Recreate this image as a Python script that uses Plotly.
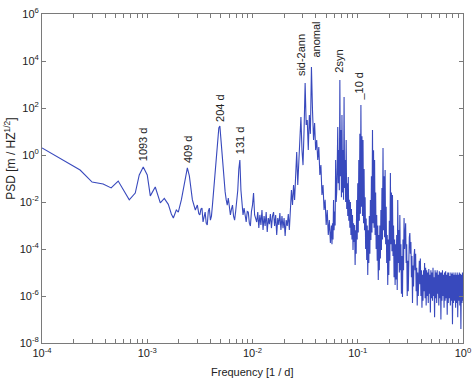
import numpy as np
import plotly.graph_objects as go

# ---- data: log10(frequency [1/d]) and log10(PSD) ----
log_freq_low = [-4.0, -3.829, -3.638, -3.524, -3.419, -3.343, -3.276, -3.171, -3.114, -3.076,
                -3.038, -3.0, -2.971, -2.924, -2.876, -2.838, -2.800, -2.771, -2.752, -2.724,
                -2.705, -2.676, -2.648, -2.619, -2.600, -2.571, -2.543, -2.524, -2.51]
log_psd_low = [0.30, -0.13, -0.64, -1.15, -1.23, -1.40, -1.11, -1.91, -1.62, -0.85,
               -0.51, -0.85, -1.74, -1.36, -2.04, -1.85, -2.10, -2.51, -2.68, -2.34,
               -2.43, -1.91, -1.28, -0.55, -0.89, -1.91, -2.34, -2.13, -2.5]

log_freq_mid = [
    -2.50, -2.49, -2.48, -2.47, -2.46, -2.45, -2.44, -2.43, -2.42, -2.41,
    -2.40, -2.39, -2.38, -2.37, -2.36, -2.35, -2.34, -2.33, -2.32, -2.31,
    -2.30, -2.29, -2.28, -2.27, -2.26, -2.25, -2.24, -2.23, -2.22, -2.21,
    -2.20, -2.19, -2.18, -2.17, -2.16, -2.15, -2.14, -2.13, -2.12, -2.11,
    -2.10, -2.09, -2.08, -2.07, -2.06, -2.05, -2.04, -2.03, -2.02, -2.01,
    -2.00, -1.99, -1.98, -1.97, -1.96, -1.95, -1.94, -1.93, -1.92, -1.91,
    -1.90, -1.89, -1.88, -1.87, -1.86, -1.85, -1.84, -1.83, -1.82, -1.81,
    -1.80, -1.79, -1.78, -1.77, -1.76, -1.75, -1.74, -1.73, -1.72, -1.71,
    -1.70, -1.69, -1.68, -1.67, -1.66, -1.65, -1.64, -1.63, -1.62, -1.61,
    -1.60, -1.59, -1.58, -1.57, -1.56, -1.55, -1.54, -1.53, -1.52, -1.51,
    -1.50, -1.49, -1.48, -1.47, -1.46, -1.45, -1.44, -1.43, -1.42, -1.41,
    -1.40, -1.39, -1.38, -1.37, -1.36, -1.35, -1.34, -1.33, -1.32, -1.31,
    -1.30, -1.29, -1.28, -1.27, -1.26]
log_psd_mid = [
    -2.55, -2.3, -2.26, -2.85, -2.6, -2.43, -2.9, -2.98, -2.4, -2.26,
    -2.77, -2.6, -2.1, -1.6, -1.0, -0.5, 0.2, 0.75, 1.15, 1.23,
    0.7, 0.1, -0.7, -1.2, -1.57, -1.9, -2.13, -1.83, -2.2, -2.55,
    -2.3, -2.13, -2.6, -2.77, -2.4, -1.91, -1.5, -0.6, -0.21, -1.49,
    -2.2, -2.55, -2.26, -2.6, -2.85, -2.4, -2.43, -2.9, -3.02, -2.4,
    -2.13, -1.62, -2.55, -2.7, -2.85, -2.43, -3.11, -2.55, -2.98, -2.34,
    -3.19, -2.6, -3.02, -2.43, -3.28, -2.68, -2.94, -2.51, -3.11, -2.6,
    -2.43, -3.02, -2.55, -3.4, -2.68, -2.98, -2.47, -3.19, -2.6, -3.11,
    -2.68, -3.45, -2.77, -3.02, -2.51, -3.19, -1.91, -1.49, -2.13, -1.28,
    -1.91, -0.85, 0.13, -1.28, -0.21, 0.64, 1.62, 0.21, -0.43, 1.06,
    3.06, 1.28, 1.49, 0.21, 1.70, 0.9, 3.74, 1.91, 0.64, 1.36,
    0.21, 0.64, -0.21, 0.34, -0.85, -0.43, -1.70, -1.28, -2.34, -1.91,
    -2.98, -2.34, -3.40, -2.77, -3.74]

log_freq_dense = [
    -1.250, -1.245, -1.240, -1.235, -1.230, -1.225, -1.220, -1.215, -1.210, -1.205,
    -1.200, -1.195, -1.190, -1.185, -1.180, -1.175, -1.170, -1.165, -1.160, -1.155,
    -1.150, -1.145, -1.140, -1.135, -1.130, -1.125, -1.120, -1.115, -1.110, -1.105,
    -1.100, -1.095, -1.090, -1.085, -1.080, -1.075, -1.070, -1.065, -1.060, -1.055,
    -1.050, -1.045, -1.040, -1.035, -1.030, -1.025, -1.020, -1.015, -1.010, -1.005,
    -1.000, -0.995, -0.990, -0.985, -0.980, -0.975, -0.970, -0.965, -0.960, -0.955,
    -0.950, -0.945, -0.940, -0.935, -0.930, -0.925, -0.920, -0.915, -0.910, -0.905,
    -0.900, -0.895, -0.890, -0.885, -0.880, -0.875, -0.870, -0.865, -0.860, -0.855,
    -0.850, -0.845, -0.840, -0.835, -0.830, -0.825, -0.820, -0.815, -0.810, -0.805,
    -0.800, -0.795, -0.790, -0.785, -0.780, -0.775, -0.770, -0.765, -0.760, -0.755,
    -0.750, -0.745, -0.740, -0.735, -0.730, -0.725, -0.720, -0.715, -0.710, -0.705,
    -0.700, -0.695, -0.690, -0.685, -0.680, -0.675, -0.670, -0.665, -0.660, -0.655,
    -0.650, -0.645, -0.640, -0.635, -0.630, -0.625, -0.620, -0.615, -0.610, -0.605,
    -0.600, -0.595, -0.590, -0.585, -0.580, -0.575, -0.570, -0.565, -0.560, -0.555]
log_psd_dense = [
    -3.0, -3.8, -2.9, -3.6, -1.91, -3.2, -2.4, -3.0, -0.21, -2.0,
    -1.6, -0.5, 1.19, -1.2, 0.21, -1.5, 3.19, -0.9, 1.06, -1.8,
    1.70, -1.6, 0.21, -1.9, 2.47, -1.4, -0.21, -2.0, 0.64, -2.3,
    -1.2, -2.6, -0.94, -2.8, -1.9, -3.1, -2.0, -3.4, -2.3, -3.6,
    -2.55, -4.04, -2.9, -3.7, -2.98, -4.68, -3.2, -4.2, -1.91, -3.6,
    -1.2, -3.3, -0.21, -2.8, 0.9, -2.5, 2.13, -2.2, 0.8, -2.6,
    0.64, -2.9, -0.6, -3.2, -1.8, -4.0, -2.7, -4.47, -3.0, -5.11,
    -3.2, -4.6, -2.6, -4.2, -1.91, -3.62, -0.9, -3.3, 1.06, -2.9,
    0.2, -3.1, -0.21, -3.4, -1.6, -4.0, -2.55, -4.5, -3.0, -5.32,
    -3.4, -4.9, -3.0, -4.4, -2.34, -4.04, -1.4, -3.6, 0.30, -3.2,
    -0.9, -3.5, -0.64, -3.8, -2.2, -4.6, -3.4, -5.53, -3.6, -5.11,
    -2.8, -4.5, -0.77, -3.8, -1.6, -4.1, -1.70, -4.3, -3.0, -5.2,
    -3.6, -5.53, -3.8, -5.3, -3.4, -5.74, -1.91, -4.6, -3.19, -5.0,
    -2.55, -4.9, -3.8, -5.9, -4.3, -6.04, -3.6, -4.9, -2.68, -4.0]

log_freq_tail = [
    -0.550, -0.545, -0.540, -0.535, -0.530, -0.525, -0.520, -0.515, -0.510, -0.505,
    -0.500, -0.495, -0.490, -0.485, -0.480, -0.475, -0.470, -0.465, -0.460, -0.455,
    -0.450, -0.445, -0.440, -0.435, -0.430, -0.425, -0.420, -0.415, -0.410, -0.405,
    -0.400, -0.395, -0.390, -0.385, -0.380, -0.375, -0.370, -0.365, -0.360, -0.355,
    -0.350, -0.345, -0.340, -0.335, -0.330, -0.325, -0.320, -0.315, -0.310, -0.305,
    -0.300, -0.295, -0.290, -0.285, -0.280, -0.275, -0.270, -0.265, -0.260, -0.255,
    -0.250, -0.245, -0.240, -0.235, -0.230, -0.225, -0.220, -0.215, -0.210, -0.205,
    -0.200, -0.195, -0.190, -0.185, -0.180, -0.175, -0.170, -0.165, -0.160, -0.155,
    -0.150, -0.145, -0.140, -0.135, -0.130, -0.125, -0.120, -0.115, -0.110, -0.105,
    -0.100, -0.095, -0.090, -0.085, -0.080, -0.075, -0.070, -0.065, -0.060, -0.055,
    -0.050, -0.045, -0.040, -0.035, -0.030, -0.025, -0.020, -0.015, -0.010, -0.005,
    0.000]
log_psd_tail = [
    -3.3, -2.9, -4.6, -3.8, -6.0, -4.5, -5.8, -3.9, -3.5, -3.32,
    -4.2, -3.7, -5.2, -4.3, -6.3, -4.7, -5.6, -4.3, -4.0, -4.9,
    -4.2, -5.8, -4.8, -6.4, -5.0, -6.0, -4.8, -4.5, -5.5, -4.4,
    -6.0, -4.9, -6.5, -5.1, -6.2, -4.9, -5.8, -4.6, -6.1, -4.8,
    -6.4,
    -4.9, -6.0, -5.0, -6.3, -4.85, -5.9, -5.1, -6.7, -4.9, -6.1,
    -5.0, -6.2, -4.8, -6.0, -5.2, -6.9, -4.9, -6.1, -5.0, -6.3,
    -4.9, -5.9, -5.1, -6.4, -4.95, -6.1, -5.0, -7.0, -5.0, -6.2,
    -4.9, -6.0, -5.1, -6.5, -5.0, -6.2, -4.95, -6.1, -5.1, -6.8,
    -5.0, -6.3, -5.0, -6.1, -5.15, -6.4, -5.0, -6.2, -5.05, -7.2,
    -5.0, -6.3, -5.1, -6.2, -5.0, -6.5, -5.1, -6.3, -5.0, -6.9,
    -5.1, -6.2, -5.0, -6.4, -5.05, -7.4, -5.1, -6.3, -5.0, -6.2]

# labelled peaks: label text, label centre (log10 frequency), label bottom (log10 PSD)
peak_labels = ["1093 d", "409 d", "204 d", "131 d", "sid-2ann", "anomal", "2syn", "_10 d"]
peak_label_logf = [np.log10(1 / 1093), np.log10(1 / 409), np.log10(1 / 204), np.log10(1 / 131),
                   -1.538, -1.40, -1.176, -0.986]
peak_label_logy = [-0.30, -0.38, 1.36, 0.0, 3.32, 4.09, 3.45, 2.26]

x_decades = [-4, -3, -2, -1, 0]
y_decades = [-8, -6, -4, -2, 0, 2, 4, 6]

# ---- build ----
def seg(a, b):
    n = min(len(a), len(b))
    return list(a[:n]), list(b[:n])

parts = [seg(log_freq_low, log_psd_low), seg(log_freq_mid, log_psd_mid),
         seg(log_freq_dense, log_psd_dense), seg(log_freq_tail, log_psd_tail)]
lf = np.array([v for p in parts for v in p[0]])
lp = np.array([v for p in parts for v in p[1]])
freq = 10.0 ** lf
psd = 10.0 ** lp

FONT = "Arial, Liberation Sans, Helvetica, sans-serif"
AX = "#7a7a7a"

fig = go.Figure()
fig.add_trace(go.Scatter(x=freq, y=psd, mode="lines",
                         line=dict(color="#3849bd", width=1.1), showlegend=False,
                         hoverinfo="skip"))

xt_vals = [10.0 ** d for d in x_decades]
xt_text = [f"10<sup>{d}</sup>" for d in x_decades]
x_minor = [k * 10.0 ** d for d in x_decades[:-1] for k in range(2, 10)]

yt_vals = [10.0 ** d for d in y_decades]
yt_text = [f"10<sup>{d}</sup>" for d in y_decades]

fig.update_xaxes(type="log", range=[-4, 0], showgrid=False, zeroline=False, automargin=False,
                 showline=True, linecolor=AX, linewidth=1, mirror="ticks",
                 ticks="inside", ticklen=4, tickcolor=AX, tickwidth=1,
                 tickmode="array", tickvals=xt_vals, ticktext=xt_text,
                 minor=dict(tickmode="array", tickvals=x_minor, ticks="inside",
                            ticklen=4, tickcolor=AX, tickwidth=1, showgrid=False),
                 tickfont=dict(family=FONT, size=11, color="#222"))
fig.update_yaxes(type="log", range=[-8, 6], showgrid=False, zeroline=False, automargin=False,
                 showline=True, linecolor=AX, linewidth=1, mirror="ticks",
                 ticks="inside", ticklen=4, tickcolor=AX, tickwidth=1,
                 tickmode="array", tickvals=yt_vals, ticktext=yt_text,
                 tickfont=dict(family=FONT, size=11, color="#222"))

for t, x, y in zip(peak_labels, peak_label_logf, peak_label_logy):
    fig.add_annotation(x=x, y=y, xref="x", yref="y", text=t, showarrow=False,
                       textangle=-90, xanchor="center", yanchor="bottom",
                       font=dict(family=FONT, size=11, color="#222"),
                       borderpad=0)

fig.add_annotation(x=0.5, y=-0.088, xref="paper", yref="paper",
                   text="Frequency [1 / d]", showarrow=False,
                   xanchor="center", yanchor="middle",
                   font=dict(family=FONT, size=11, color="#222"))
fig.add_annotation(x=-0.076, y=0.56, xref="paper", yref="paper",
                   text="PSD [m / HZ<sup>1/2</sup>]", showarrow=False, textangle=-90,
                   xanchor="center", yanchor="middle",
                   font=dict(family=FONT, size=12, color="#222"))

fig.update_layout(width=474, height=382, margin=dict(l=42, r=11, t=14, b=39, autoexpand=False),
                  paper_bgcolor="white", plot_bgcolor="white")

fig.write_html("out.html", config={"displayModeBar": False},
               post_script="document.body.style.margin='0px';document.body.style.padding='0px';")
